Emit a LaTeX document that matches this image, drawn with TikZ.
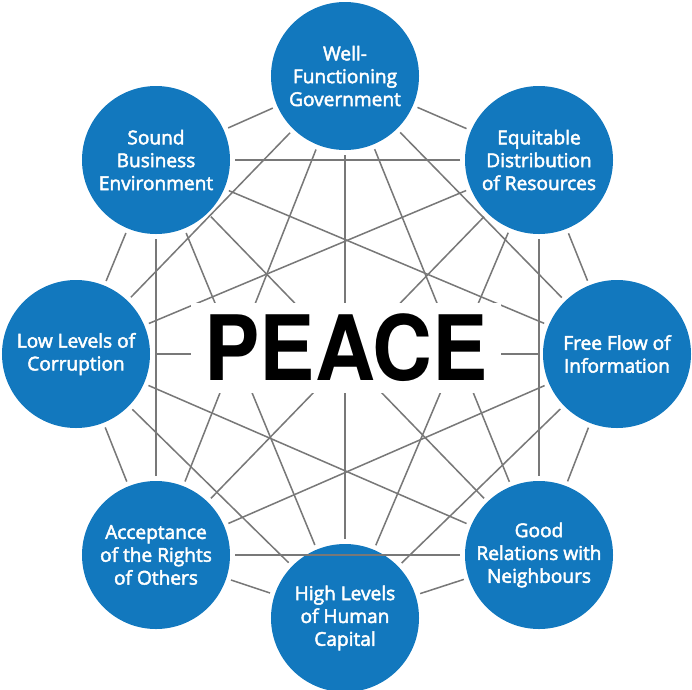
\documentclass[tikz,border=0pt]{standalone}
\usepackage{fontspec}
\newfontfamily\pillarfont[FakeBold=2.5]{Open Sans}
\newfontfamily\peacefont{TeX Gyre Heros}
\usepackage{tikz}

\definecolor{pillarblue}{RGB}{18,120,190}
\definecolor{linkgray}{RGB}{120,120,120}

\begin{document}
\begin{tikzpicture}[x=.03cm,y=-.03cm,
  pillar/.style={circle,fill=pillarblue,minimum size=4.44cm,inner sep=0pt,outer sep=.15cm,
    text=white,align=center,font=\pillarfont\fontsize{16.3}{19.5}\selectfont},
  link/.style={linkgray,line width=1.3pt},
  centre/.style={fill=white,inner xsep=.4cm,inner ysep=.32cm,
    font=\peacefont\bfseries\fontsize{77}{77}\selectfont}]
\path[use as bounding box] (0,0) rectangle (692,689);
% the eight pillars
\node[pillar] (gov) at (345,76) {Well-\\Functioning\\Government};
\node[pillar] (equ) at (539,160) {Equitable\\Distribution\\of Resources};
\node[pillar] (info) at (617,354) {Free Flow of\\Information};
\node[pillar] (nbr) at (539,555) {Good\\Relations with\\Neighbours};
\node[pillar] (hum) at (345,618) {High Levels\\of Human\\Capital};
\node[pillar] (rights) at (156,555) {Acceptance\\of the Rights\\of Others};
\node[pillar] (corr) at (76,354) {Low Levels of\\Corruption};
\node[pillar] (biz) at (156,160) {Sound\\Business\\Environment};
% every pillar linked to every other
\foreach \a [count=\i] in {gov,equ,info,nbr,hum,rights,corr,biz}
  \foreach \b [count=\j] in {gov,equ,info,nbr,hum,rights,corr,biz}
    {\ifnum\j>\i \draw[link] (\a) -- (\b); \fi}
\node[centre] (peace) at (346,348) {\scalebox{.92}[1]{PEACE}};
\end{tikzpicture}
\end{document}
